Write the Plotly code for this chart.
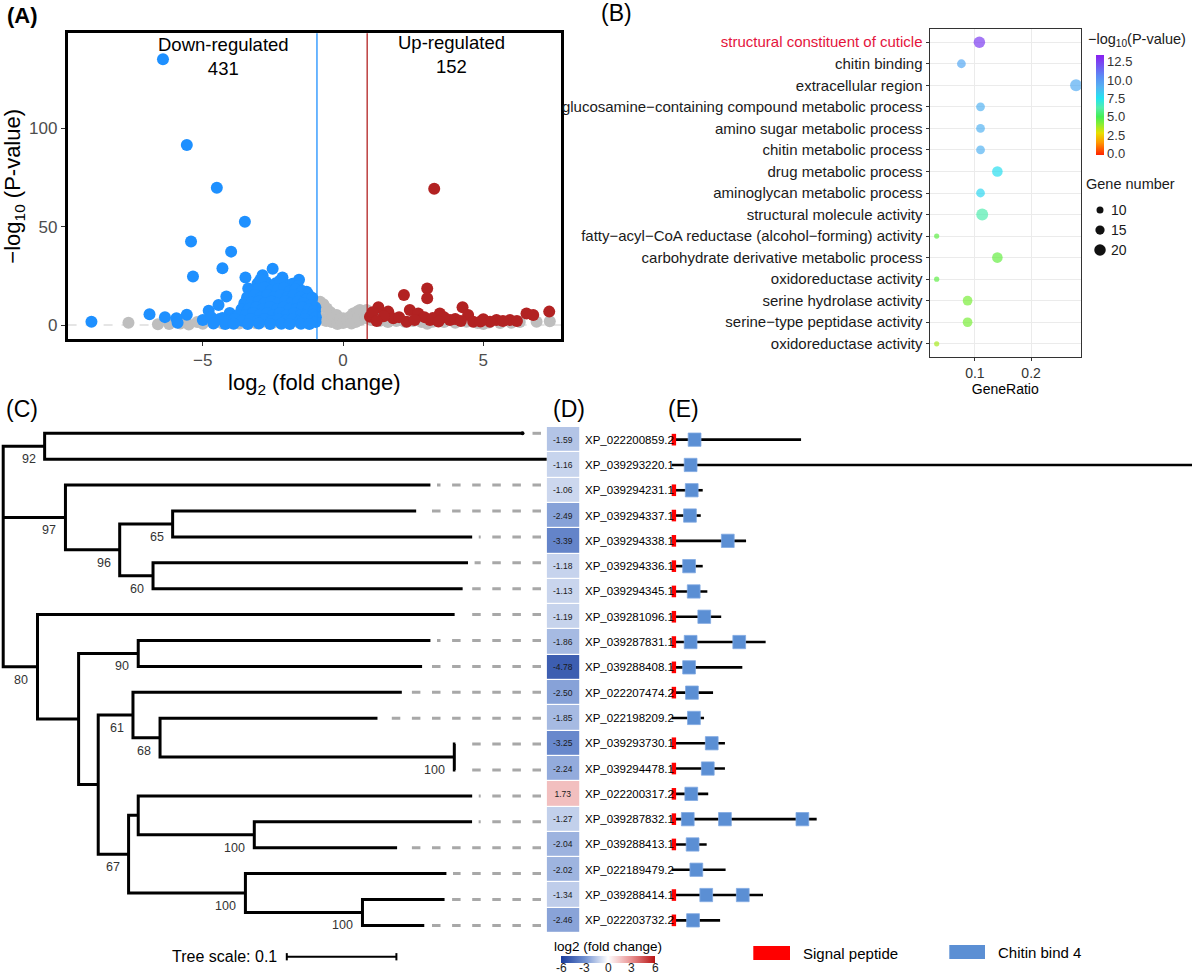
import plotly.graph_objects as go

W, H = 1192, 976
FONT = "Liberation Sans, Arial, Helvetica, sans-serif"


def fx(p):
    return p / W


def fy(p):
    return 1 - p / H


# ---------------- (A) volcano plot data: (log2 FC, -log10 P) ----------------
gray_pts = [(-7.65, 1.2), (-6.6, 0.4), (-6.2, 0.5), (-5.8, 0.8), (-5.5, 0.3), (-5.2, 1.5), (-5.0, 0.6),
            (-4.9, 2.2), (-4.6, 1.7), (-4.3, 0.8), (-4.0, 1.2), (-3.7, 0.7), (-3.4, 1.5), (-3.1, 0.9),
            (-2.8, 1.8), (-2.5, 1.2), (-2.2, 1.6), (-1.9, 1.0), (-1.6, 1.5), (-1.3, 2.0), (-1.0, 2.5),
            (-0.95, 6.0), (-0.9, 9.0), (-0.82, 11.8), (-0.8, 3.5), (-0.7, 10.5), (-0.6, 2.0), (-0.58, 8.4),
            (-0.45, 6.5), (-0.4, 1.5), (-0.35, 4.5), (-0.23, 5.1), (-0.2, 0.5), (-0.1, 3.0), (0.0, 3.4),
            (0.0, 1.0), (0.15, 2.5), (0.25, 4.2), (0.3, 0.8), (0.36, 5.9), (0.45, 1.5), (0.5, 6.8),
            (0.6, 7.6), (0.6, 2.5), (0.75, 6.5), (0.8, 3.5), (0.84, 7.6), (0.95, 5.5), (1.0, 2.5),
            (1.2, 4.5), (1.3, 2.0), (1.6, 1.5), (1.9, 2.0), (2.2, 1.6), (2.5, 2.0), (2.8, 1.5), (3.0, 0.6),
            (3.2, 1.7), (3.6, 1.5), (4.0, 1.2), (4.4, 1.7), (4.8, 1.0), (5.0, 0.5), (5.2, 1.3), (5.6, 1.0),
            (6.0, 1.2), (6.3, 1.5), (6.9, 1.7), (7.37, 1.9)]

down_pts = [(-6.42, 135.1), (-5.57, 91.5), (-4.50, 69.8), (-3.50, 52.5), (-5.42, 42.4), (-3.99, 37.3),
            (-4.30, 28.8), (-5.35, 24.6), (-3.48, 24.1), (-2.87, 25.3), (-2.51, 28.6), (-2.16, 24.2),
            (-1.57, 23.0), (-3.38, 18.6), (-4.16, 14.5), (-4.44, 10.2), (-4.79, 7.3), (-6.90, 5.5),
            (-6.35, 4.0), (-5.94, 3.4), (-5.57, 5.2), (-5.90, 1.2), (-8.97, 1.6), (-4.04, 6.1), (-5.0, 2.5),
            (-1.30, 16.9), (-1.18, 11.8), (-1.0, 6.8), (-4.7, 4.0), (-4.3, 3.5), (-3.8, 4.5),
            (-3.05, 21.0), (-2.75, 22.0), (-2.40, 21.2), (-2.00, 20.3), (-1.80, 21.0), (-1.62, 19.8),
            (-2.25, 22.5), (-2.95, 23.0),
            (-3.30, 17.2), (-3.02, 18.3), (-2.80, 19.1), (-2.58, 17.4), (-2.32, 18.2), (-2.10, 19.0),
            (-1.90, 17.1), (-1.70, 18.0), (-1.45, 17.3), (-1.25, 15.8),
            (-3.42, 14.1), (-3.15, 15.2), (-2.92, 14.0), (-2.70, 15.3), (-2.46, 14.2), (-2.22, 15.1),
            (-2.00, 14.0), (-1.76, 15.2), (-1.52, 14.1), (-1.32, 13.0), (-1.10, 13.8),
            (-3.52, 11.0), (-3.26, 11.3), (-3.00, 12.1), (-2.80, 11.0), (-2.55, 12.0), (-2.30, 11.2),
            (-2.06, 12.1), (-1.85, 11.0), (-1.60, 12.0), (-1.40, 11.1), (-1.15, 10.0), (-0.99, 9.0),
            (-3.62, 8.0), (-3.36, 8.3), (-3.10, 9.0), (-2.86, 8.1), (-2.60, 9.1), (-2.36, 8.0),
            (-2.12, 9.0), (-1.90, 8.2), (-1.66, 8.1), (-1.46, 9.0), (-1.22, 8.0), (-1.03, 7.1),
            (-3.72, 5.1), (-3.46, 5.0), (-3.20, 6.1), (-2.95, 5.2), (-2.70, 6.0), (-2.50, 5.0),
            (-2.25, 6.1), (-2.00, 5.1), (-1.75, 6.0), (-1.50, 5.1), (-1.30, 5.0), (-1.08, 5.2), (-0.97, 4.0),
            (-4.40, 3.0), (-4.10, 2.1), (-3.86, 3.0), (-3.60, 2.1), (-3.30, 3.0), (-3.05, 2.0),
            (-2.80, 3.1), (-2.55, 2.0), (-2.30, 3.0), (-2.05, 2.1), (-1.80, 3.0), (-1.55, 2.0),
            (-1.35, 3.1), (-1.10, 2.0), (-0.98, 1.5),
            (-4.62, 0.8), (-4.20, 0.5), (-3.90, 0.6), (-3.40, 0.5), (-3.00, 0.7), (-2.60, 0.5),
            (-2.20, 0.6), (-1.90, 0.5), (-1.50, 0.6), (-1.20, 0.5)]

up_pts = [(3.25, 69.3), (3.0, 18.6), (3.0, 13.6), (2.17, 15.3), (1.26, 9.0), (1.61, 6.8), (2.38, 7.6),
          (2.68, 5.9), (3.45, 5.9), (4.26, 9.0), (4.46, 5.1), (5.0, 2.9), (5.47, 2.5), (5.95, 2.5),
          (6.54, 5.9), (6.78, 5.1), (7.35, 6.8), (0.96, 4.2), (1.79, 3.4), (3.1, 2.5), (3.81, 2.5),
          (4.64, 1.7), (5.24, 1.7), (2.27, 1.7), (1.05, 6.5), (1.45, 4.5), (2.0, 4.0), (2.9, 4.0),
          (3.2, 3.5), (3.6, 4.0), (4.0, 3.0), (4.9, 1.8), (5.7, 2.0), (6.2, 2.0), (1.2, 2.0), (2.55, 2.5),
          (3.4, 1.8), (4.2, 2.0)]

fc_down_thr = -0.93
fc_up_thr = 0.86
n_down, n_up = 431, 152

# ---------------- (B) GO enrichment ----------------
go_terms = ["structural constituent of cuticle", "chitin binding", "extracellular region",
            "glucosamine\u2212containing compound metabolic process", "amino sugar metabolic process",
            "chitin metabolic process", "drug metabolic process", "aminoglycan metabolic process",
            "structural molecule activity", "fatty\u2212acyl\u2212CoA reductase (alcohol\u2212forming) activity",
            "carbohydrate derivative metabolic process", "oxidoreductase activity",
            "serine hydrolase activity", "serine\u2212type peptidase activity", "oxidoreductase activity"]
go_ratio = [0.108, 0.076, 0.280, 0.110, 0.110, 0.110, 0.140, 0.110, 0.113, 0.032, 0.140, 0.032, 0.087, 0.087, 0.032]
go_logp = [12.6, 9.4, 9.3, 9.0, 9.0, 9.0, 7.7, 7.9, 6.3, 4.6, 4.5, 4.6, 4.2, 4.2, 3.6]
go_count = [20, 14, 21, 14, 14, 14, 18, 14, 21, 6, 18, 6, 16, 16, 6]
gene_legend = [10, 15, 20]

# ---------------- (C) tree: internal = [branch length, bootstrap, children]; leaf = (branch length, row)
tree = [0.0, None, [
    [0.0378, 92, [(0.436, 0), (0.50, 1)]],
    [0.0568, 97, [(0.333, 2),
                  [0.0495, 96, [[0.0483, 65, [(0.2222, 3), (0.2733, 4)]],
                                [0.0304, 60, [(0.2874, 5), (0.2825, 6)]]]]]],
    [0.0313, 80, [(0.3806, 7),
                  [0.0375, None, [
                      [0.0544, 90, [(0.2666, 8), (0.2590, 9)]],
                      [0.0179, None, [
                          [0.0317, 61, [(0.2453, 10),
                                        [0.0247, 68, [(0.1984, 11),
                                                      [0.2685, 100, [(0.001, 12), (0.001, 13)]]]]]],
                          [0.0277, 67, [[0.0088, None, [(0.3047, 14),
                                                        [0.1059, 100, [(0.1987, 15), (0.1303, 16)]]]],
                                        [0.1066, 100, [(0.1834, 17),
                                                       [0.1068, 100, [(0.0749, 18), (0.0564, 19)]]]]]]]]]]]],
]]
tree_scale = 0.1

# ---------------- (D) fold change, (E) protein architecture ----------------
protein_ids = ["XP_022200859.2", "XP_039293220.1", "XP_039294231.1", "XP_039294337.1", "XP_039294338.1",
               "XP_039294336.1", "XP_039294345.1", "XP_039281096.1", "XP_039287831.1", "XP_039288408.1",
               "XP_022207474.2", "XP_022198209.2", "XP_039293730.1", "XP_039294478.1", "XP_022200317.2",
               "XP_039287832.1", "XP_039288413.1", "XP_022189479.2", "XP_039288414.1", "XP_022203732.2"]
log2fc = [-1.59, -1.16, -1.06, -2.49, -3.39, -1.18, -1.13, -1.19, -1.86, -4.78,
          -2.50, -1.85, -3.25, -2.24, 1.73, -1.27, -2.04, -2.02, -1.34, -2.46]
fc_ticks = [-6, -3, 0, 3, 6]
prot_len = [588, 2500, 141, 132, 338, 141, 162, 225, 427, 321, 188, 147, 242, 242, 166, 659, 159, 245, 415, 220]
has_signal = [True, False, True, True, True, True, True, True, True, True,
              True, False, True, True, True, True, True, False, True, True]
chitin_starts = [[75], [57], [62], [54], [226], [50], [71], [119], [57, 278], [50],
                 [63], [72], [153], [135], [60], [44, 213, 565], [66], [83], [128, 294], [68]]
signal_len = 20
chitin_len = 58

fig = go.Figure()

# ---- A traces
for pts, col in ((gray_pts, '#bebebe'), (down_pts, '#1e90ff'), (up_pts, '#b22222')):
    xs, ys = zip(*pts)
    fig.add_trace(go.Scatter(x=list(xs), y=list(ys), mode='markers', xaxis='x', yaxis='y',
                             marker=dict(size=12, color=col, line=dict(width=0)),
                             hoverinfo='skip', showlegend=False))

# ---- B trace
cmin_b, cmax_b = -0.2, 13.4
stops = [(-0.2, '#ff2200'), (1.5, '#ff9900'), (2.8, '#e8e000'), (4.0, '#88ee33'), (5.0, '#44ee55'),
         (6.2, '#55eeaa'), (7.5, '#22e4f0'), (9.0, '#55b4f2'), (10.5, '#5c8cf4'), (13.4, '#8a1ff0')]
cscale_b = [[(v - cmin_b) / (cmax_b - cmin_b), c] for v, c in stops]


def dot_size(n):
    return 2.5 + 0.45 * n


fig.add_trace(go.Scatter(
    x=go_ratio, y=list(range(len(go_terms))), mode='markers', xaxis='x2', yaxis='y2',
    marker=dict(size=[dot_size(n) for n in go_count], color=go_logp, colorscale=cscale_b,
                cmin=cmin_b, cmax=cmax_b, line=dict(width=0),
                colorbar=dict(x=fx(1096), xanchor='left', xpad=0, y=fy(55), yanchor='top', ypad=0,
                              len=100, lenmode='pixels', thickness=7.5, thicknessmode='pixels',
                              outlinewidth=0, ticks='', tickvals=[0, 2.5, 5, 7.5, 10, 12.5],
                              ticktext=['0.0', '2.5', '5.0', '7.5', '10.0', '12.5'],
                              tickfont=dict(size=13, color='#333333', family=FONT))),
    hoverinfo='skip', showlegend=False))

# ---- C tree
tree_x, tree_y, boots, tip_x = [], [], [], {}


def place(node, x0):
    if isinstance(node, tuple):
        bl, row = node
        tip_x[row] = x0 + bl
        return x0 + bl, row
    bl, boot, kids = node
    x = x0 + bl
    pos = [place(k, x) for k in kids]
    y = (pos[0][1] + pos[-1][1]) / 2
    (xa, ya), (xb, yb) = pos[0], pos[-1]
    tree_x.extend([xa, x, x, xb, None])
    tree_y.extend([ya, ya, yb, yb, None])
    for xm, ym in pos[1:-1]:
        tree_x.extend([x, xm, None])
        tree_y.extend([ym, ym, None])
    if boot:
        boots.append((x, y, boot))
    return x, y


place(tree, 0.0)

px_per_unit = 1096.0
tx0 = 3.2
lead_end = (541 - tx0) / px_per_unit
for row in range(len(protein_ids)):
    if row == 1:
        continue
    fig.add_trace(go.Scatter(x=[lead_end, tip_x[row] + 0.006], y=[row, row], mode='lines',
                             xaxis='x3', yaxis='y3',
                             line=dict(color='#a8a8a8', width=3, dash='8.5px,11.6px'),
                             hoverinfo='skip', showlegend=False))
fig.add_trace(go.Scatter(x=tree_x, y=tree_y, mode='lines', xaxis='x3', yaxis='y3',
                         line=dict(color='black', width=3), hoverinfo='skip', showlegend=False))
fig.add_trace(go.Scatter(x=[tip_x[0]], y=[0], mode='markers', xaxis='x3', yaxis='y3',
                         marker=dict(size=4, color='black'), hoverinfo='skip', showlegend=False))

bar_x0 = (286.8 - tx0) / px_per_unit
bar_y = 20.21
fig.add_trace(go.Scatter(x=[bar_x0, bar_x0, None, bar_x0, bar_x0 + tree_scale, None,
                            bar_x0 + tree_scale, bar_x0 + tree_scale],
                         y=[bar_y - 0.14, bar_y + 0.14, None, bar_y, bar_y, None, bar_y - 0.14, bar_y + 0.14],
                         mode='lines', xaxis='x3', yaxis='y3', line=dict(color='black', width=2),
                         hoverinfo='skip', showlegend=False))

# ---- D heatmap
fig.add_trace(go.Heatmap(
    z=[[v] for v in log2fc], x=[0], y=list(range(len(log2fc))), xaxis='x4', yaxis='y4',
    zmin=fc_ticks[0], zmax=fc_ticks[-1], ygap=1.2,
    colorscale=[[0, '#1a3c9c'], [0.25, '#6f8fd0'], [0.5, '#ffffff'], [0.75, '#e89090'], [1, '#b81414']],
    text=[[f"{v:.2f}"] for v in log2fc], texttemplate='%{text}',
    textfont=dict(size=8.5, color='#1a1a1a', family=FONT),
    colorbar=dict(orientation='h', x=fx(608), xanchor='center', xpad=0, len=94, lenmode='pixels',
                  thickness=7, y=fy(956), yanchor='top', ypad=0, outlinewidth=0, ticks='',
                  showticklabels=False),
    hoverinfo='skip'))

# ---- E protein backbones
bx, by = [], []
for i, L in enumerate(prot_len):
    bx.extend([0, L, None])
    by.extend([i, i, None])
fig.add_trace(go.Scatter(x=bx, y=by, mode='lines', xaxis='x5', yaxis='y5',
                         line=dict(color='black', width=2.6), hoverinfo='skip', showlegend=False))

shapes = []
for i in range(len(protein_ids)):
    if has_signal[i]:
        shapes.append(dict(type='rect', xref='x5', yref='y5', x0=0, x1=signal_len, y0=i - 0.23, y1=i + 0.23,
                           fillcolor='#ff0000', line=dict(width=0)))
    for s in chitin_starts[i]:
        shapes.append(dict(type='rect', xref='x5', yref='y5', x0=s, x1=s + chitin_len, y0=i - 0.263,
                           y1=i + 0.263, fillcolor='#5b8fd4', line=dict(color='#82aae2', width=0.8)))

# A reference lines
shapes.append(dict(type='line', xref='x domain', yref='y', x0=0, x1=1, y0=0, y1=0, layer='below',
                   line=dict(color='#cccccc', width=1.2, dash='dash')))
shapes.append(dict(type='line', xref='x', yref='y domain', x0=fc_down_thr, x1=fc_down_thr, y0=0, y1=1,
                   line=dict(color='#1e90ff', width=1.3)))
shapes.append(dict(type='line', xref='x', yref='y domain', x0=fc_up_thr, x1=fc_up_thr, y0=0, y1=1,
                   line=dict(color='#b22222', width=1.3)))

# gene-number legend circles
for n, cy in zip(gene_legend, (210, 230, 250)):
    d = dot_size(n)
    shapes.append(dict(type='circle', xref='paper', yref='paper', x0=fx(1100 - d / 2), x1=fx(1100 + d / 2),
                       y0=fy(cy + d / 2), y1=fy(cy - d / 2), fillcolor='#111111', line=dict(width=0)))

# E legend
shapes.append(dict(type='rect', xref='paper', yref='paper', x0=fx(753.3), x1=fx(790), y0=fy(960), y1=fy(946),
                   fillcolor='#ff0000', line=dict(width=0)))
shapes.append(dict(type='rect', xref='paper', yref='paper', x0=fx(949.3), x1=fx(985), y0=fy(959), y1=fy(945),
                   fillcolor='#5b8fd4', line=dict(width=0)))

ann = []


def txt(x, y, s, size, xanchor='left', yanchor='middle', color='black', xref='paper', yref='paper', **kw):
    ann.append(dict(x=x, y=y, xref=xref, yref=yref, text=s, showarrow=False, xanchor=xanchor,
                    yanchor=yanchor, font=dict(size=size, color=color, family=FONT), **kw))


txt(fx(5), fy(15), '<b>(A)</b>', 22)
txt(fx(599), fy(13), '(B)', 23)
txt(fx(4), fy(409), '(C)', 23)
txt(fx(551), fy(409), '(D)', 23)
txt(fx(666), fy(409), '(E)', 23)

txt(-4.28, 136.5, f'Down-regulated<br>{n_down}', 18.5, xanchor='center', xref='x', yref='y')
txt(3.86, 137.3, f'Up-regulated<br>{n_up}', 18.5, xanchor='center', xref='x', yref='y')

txt(fx(1086), fy(40), '\u2212log<sub>10</sub>(P-value)', 14.5, color='#1a1a1a')
txt(fx(1084), fy(184), 'Gene number', 14.5, color='#1a1a1a')
for n, cy in zip(gene_legend, (210, 230, 250)):
    txt(fx(1109), fy(cy), str(n), 14, color='#1a1a1a')

for (x, y, b) in boots:
    txt(x - 0.0064, y + 0.5, str(b), 12.5, xanchor='right', color='#333333', xref='x3', yref='y3')
txt(bar_x0 - 0.0075, bar_y, 'Tree scale: 0.1', 16, xanchor='right', xref='x3', yref='y3')

for i, pid in enumerate(protein_ids):
    txt(fx(582.5), i, pid, 11.5, xref='paper', yref='y4')

# fold-change colour-bar title and tick labels
txt(fx(608), fy(946), 'log2 (fold change)', 13.5, xanchor='center')
cb_left, cb_right = 561.0, 655.0
for t in fc_ticks:
    px = cb_left + (t - fc_ticks[0]) / (fc_ticks[-1] - fc_ticks[0]) * (cb_right - cb_left)
    ann.append(dict(x=fx(px), y=0, xref='paper', yref='paper', text=str(t), showarrow=False,
                    xanchor='center', yanchor='bottom', borderpad=0,
                    font=dict(size=12, color='#222222', family=FONT)))

txt(fx(800.7), fy(953), 'Signal peptide', 15)
txt(fx(996), fy(952), 'Chitin bind 4', 15)

ticktext_b = ["<span style='color:#e4143c'>%s</span>" % go_terms[0]] + go_terms[1:]

fig.update_layout(
    width=W, height=H, autosize=False, margin=dict(l=0, r=0, t=0, b=0),
    paper_bgcolor='white', plot_bgcolor='white', showlegend=False,
    font=dict(family=FONT, color='black'),
    xaxis=dict(domain=[fx(67.6), fx(561)], range=[-9.82, 7.77], anchor='y', showgrid=False, zeroline=False,
               showline=True, mirror=True, linecolor='black', linewidth=2.5, ticks='outside', ticklen=4,
               tickwidth=1.3, tickcolor='#333333', tickvals=[-5, 0, 5], ticktext=['\u22125', '0', '5'],
               tickfont=dict(size=17, color='#4d4d4d'),
               title=dict(text='log<sub>2</sub> (fold change)', font=dict(size=22), standoff=6)),
    yaxis=dict(domain=[fy(339.3), fy(33.3)], range=[-7.27, 148.3], anchor='x', showgrid=False, zeroline=False,
               showline=True, mirror=True, linecolor='black', linewidth=2.5, ticks='outside', ticklen=4,
               tickwidth=1.3, tickcolor='#333333', tickvals=[0, 50, 100],
               tickfont=dict(size=17, color='#4d4d4d'),
               title=dict(text='\u2212log<sub>10</sub> (P-value)', font=dict(size=22), standoff=8)),
    xaxis2=dict(domain=[fx(929.7), fx(1080.9)], range=[0.0196, 0.2886], anchor='y2', showgrid=True,
                gridcolor='#ebebeb', gridwidth=1.2, zeroline=False, showline=True, mirror=True,
                linecolor='#333333', linewidth=1.3, ticks='outside', ticklen=3, tickcolor='#333333',
                tickvals=[0.1, 0.2], ticktext=['0.1', '0.2'], tickfont=dict(size=14, color='#333333'),
                title=dict(text='GeneRatio', font=dict(size=14), standoff=2)),
    yaxis2=dict(domain=[fy(356.7), fy(29.3)], range=[len(go_terms) - 0.4, -0.6], anchor='x2', showgrid=True,
                gridcolor='#ebebeb', gridwidth=1.2, zeroline=False, showline=True, mirror=True,
                linecolor='#333333', linewidth=1.3, ticks='outside', ticklen=3, tickcolor='#333333',
                tickvals=list(range(len(go_terms))), ticktext=ticktext_b,
                tickfont=dict(size=15, color='#1a1a1a')),
    xaxis3=dict(domain=[0, fx(547)], range=[-tx0 / px_per_unit, (547 - tx0) / px_per_unit], anchor='y3',
                visible=False),
    yaxis3=dict(domain=[0, fy(400)], range=[(976 - 433.3) / 25.9, (400 - 433.3) / 25.9], anchor='x3',
                visible=False),
    xaxis4=dict(domain=[fx(546.7), fx(579.3)], range=[-0.5, 0.5], anchor='y4', visible=False),
    yaxis4=dict(domain=[fy(933), fy(427)], range=[19.5, -0.5], anchor='x4', visible=False),
    xaxis5=dict(domain=[fx(660), 1], range=[-11.7 / 0.22, (1192 - 671.7) / 0.22], anchor='y5', visible=False),
    yaxis5=dict(domain=[fy(933), fy(427)], range=[19.5, -0.5], anchor='x5', visible=False),
    shapes=shapes, annotations=ann,
)

fig.write_html("out.html")
